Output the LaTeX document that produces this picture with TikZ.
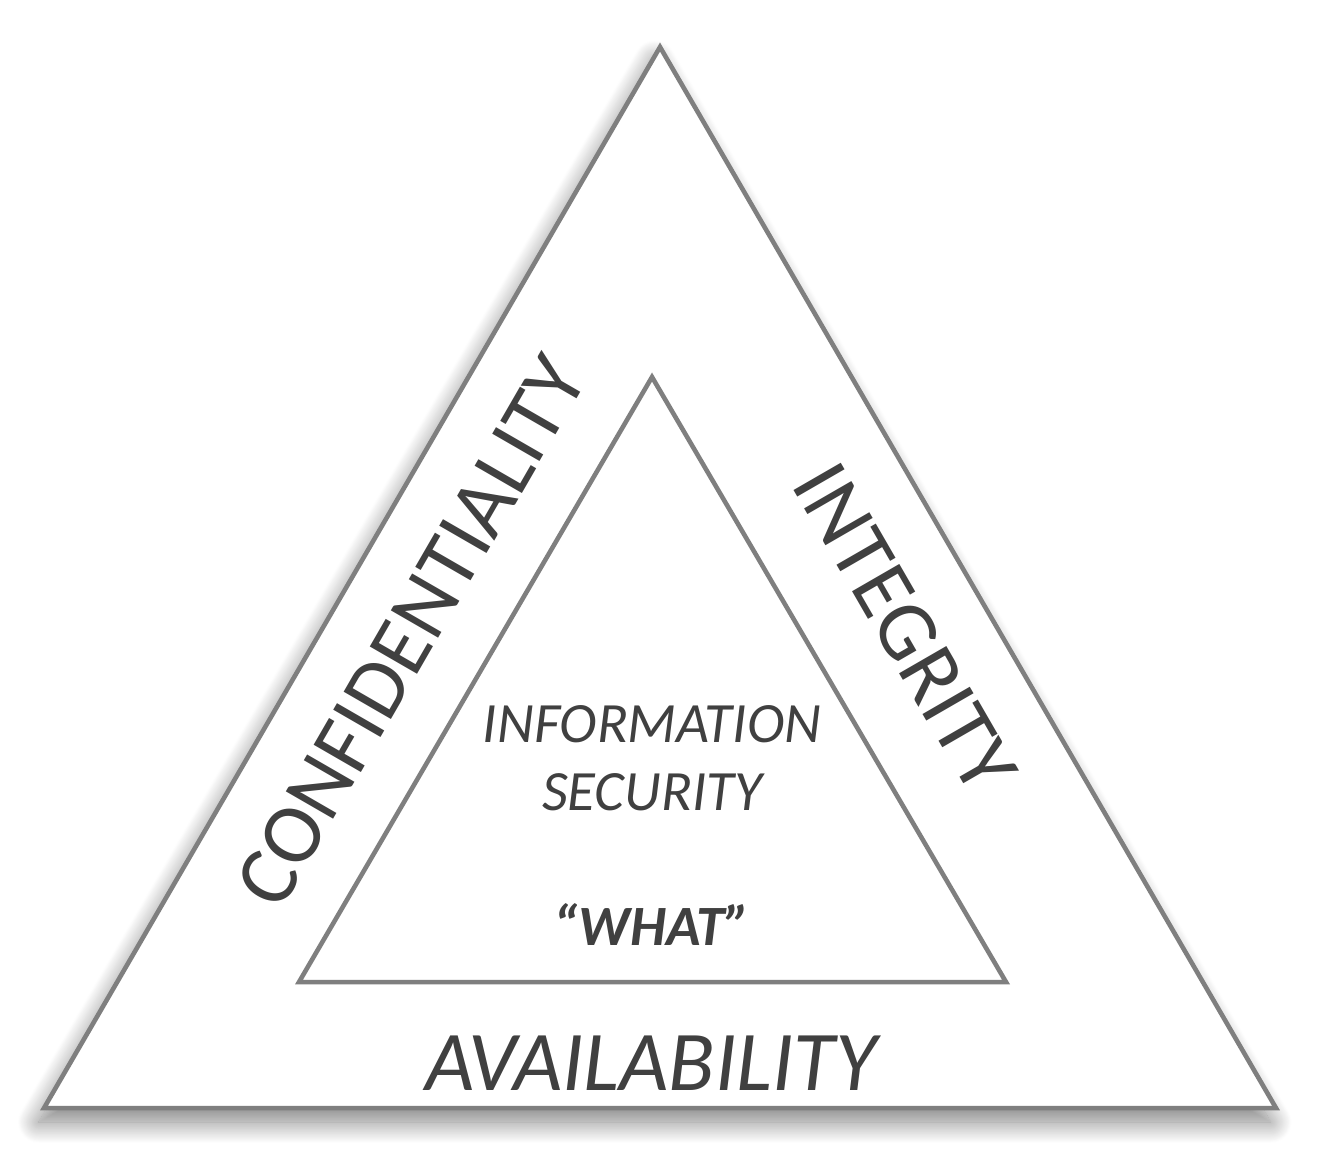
\documentclass[tikz,border=0pt]{standalone}
\usepackage{fontspec}
\setmainfont{Carlito}
\usetikzlibrary{shadows.blur}
\definecolor{edgegray}{HTML}{7F7F7F}
\definecolor{textgray}{HTML}{404040}
\begin{document}
\begin{tikzpicture}[x=0.01cm,y=-0.01cm,line join=miter,
    tri line/.style={draw=edgegray,line width=1.3pt},
    big label/.style={text=textgray,font=\fontsize{24.2}{28}\selectfont,inner sep=0pt},
    small label/.style={text=textgray,font=\fontsize{16.2}{19.5}\selectfont\itshape,inner sep=0pt,align=center}]
   \useasboundingbox (0,0) rectangle (1322,1162);
   % outer triangle
   \coordinate (otop) at (660,47);
   \coordinate (oleft) at (44,1108);
   \coordinate (oright) at (1276,1108);
   \path[tri line,fill=white,blur shadow={shadow xshift=-1.5pt,shadow yshift=-4pt,shadow blur radius=6pt,shadow blur steps=30,shadow opacity=50}]
      (otop) -- (oleft) -- (oright) -- cycle;
   % inner triangle
   \coordinate (itop) at (652,377);
   \coordinate (ileft) at (299,982);
   \coordinate (iright) at (1006,982);
   \path[tri line] (itop) -- (ileft) -- (iright) -- cycle;
   % sides
   \node[big label,rotate=60] (conf) at (411,631) {CONFIDENTIALITY};
   \node[big label,rotate=-60] (integ) at (905,628) {INTEGRITY};
   \node[big label,font=\fontsize{24.2}{28}\selectfont\itshape] (avail) at (651,1063) {AVAILABILITY};
   % centre
   \node[small label] (infosec) at (652,758) {INFORMATION\\SECURITY};
   \node[small label,font=\fontsize{16.2}{19.5}\selectfont\bfseries\itshape] (what) at (652,924) {``WHAT''};
\end{tikzpicture}
\end{document}
